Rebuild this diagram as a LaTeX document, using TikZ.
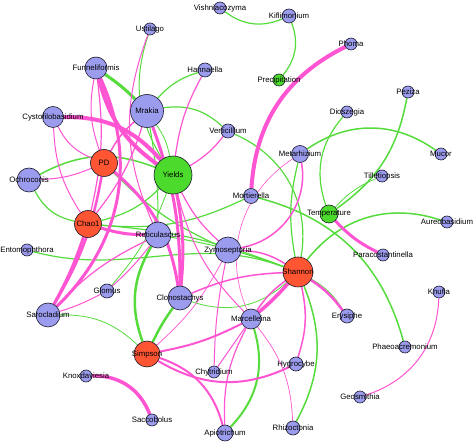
\documentclass[tikz,border=0pt]{standalone}
\usepackage{fontspec}
\setmainfont{Liberation Sans}
\usetikzlibrary{backgrounds}
\definecolor{ink}{HTML}{1A1A2E}
\definecolor{lav}{HTML}{9C9CEE}
\definecolor{tomato}{HTML}{FF5533}
\definecolor{lime}{HTML}{4CDB2C}
\definecolor{posc}{HTML}{55DC3C}
\definecolor{negc}{HTML}{FF55D2}
\tikzset{
  taxon/.style={circle,draw=ink,line width=0.6pt,fill=lav,inner sep=0pt,minimum size=#1},
  taxon/.default=12pt,
  metric/.style={taxon=#1,fill=tomato},
  factor/.style={taxon=#1,fill=lime},
  lbl/.style={font=\fontsize{7.8}{9}\selectfont,text=black,inner sep=0pt},
  posedge/.style={draw=posc,line width=#1},
  posedge/.default=1.2pt,
  negedge/.style={draw=negc,line width=#1},
  negedge/.default=1.2pt
}

\begin{document}
\begin{tikzpicture}[x=1pt,y=-1pt]
  \useasboundingbox (0,0) rectangle (474,443);
  % top
  \node[taxon,label={[lbl]center:Vishniacozyma}] (vish) at (220,8) {};
  \node[taxon=14pt,label={[lbl]center:Kiflimonium}] (kifli) at (289,16) {};
  \node[taxon,label={[lbl]center:Ustilago}] (ustil) at (150,29) {};
  \node[taxon,label={[lbl]center:Phoma}] (phoma) at (351,44) {};
  \node[taxon=22pt,label={[lbl]center:Funneliformis}] (funnel) at (96,68) {};
  \node[taxon=14pt,label={[lbl]center:Hannaella}] (hanna) at (205,70) {};
  \node[factor=12pt,label={[lbl]center:Precipitation}] (precip) at (279,80) {};
  \node[taxon=33pt,label={[lbl]center:Mrakia}] (mrakia) at (147,111) {};
  \node[taxon,label={[lbl]center:Peziza}] (peziza) at (408,92) {};
  \node[taxon=21pt,label={[lbl]center:Cystofilobasidium}] (cysto) at (53,117) {};
  \node[taxon=14pt,label={[lbl]center:Verticillium}] (verti) at (228,131) {};
  \node[taxon,label={[lbl]center:Dioszegia}] (diosz) at (347,112) {};
  % middle
  \node[metric=27pt,label={[lbl]center:PD}] (pd) at (104,163) {};
  \node[factor=38pt,label={[lbl]center:Yields}] (yields) at (173,175) {};
  \node[taxon=24pt,label={[lbl]center:Ochroconis}] (ochro) at (29,180) {};
  \node[taxon=17pt,label={[lbl]center:Metarhizium}] (metarh) at (300,154) {};
  \node[taxon,label={[lbl]center:Mucor}] (mucor) at (441,154) {};
  \node[taxon,label={[lbl]center:Tilletiopsis}] (tillet) at (382,176) {};
  \node[taxon=15pt,label={[lbl]center:Mortierella}] (mortier) at (251,196) {};
  \node[metric=27pt,label={[lbl]center:Chao1}] (chao) at (88,224) {};
  \node[taxon=26pt,label={[lbl]center:Reticulascus}] (retic) at (158,235) {};
  \node[factor=18pt,label={[lbl]center:Temperature}] (temp) at (329,214) {};
  \node[taxon,label={[lbl]center:Aureobasidium}] (aureo) at (447,222) {};
  \node[taxon,label={[lbl]center:Entomophthora}] (entomo) at (27,250) {};
  \node[taxon=26pt,label={[lbl]center:Zymoseptoria}] (zymo) at (228,250) {};
  \node[taxon,label={[lbl]center:Paracostantinella}] (paraco) at (383,255) {};
  \node[metric=30pt,label={[lbl]center:Shannon}] (shannon) at (298,272) {};
  % bottom
  \node[taxon=14pt,label={[lbl]center:Glomus}] (glomus) at (107,291) {};
  \node[taxon=24pt,label={[lbl]center:Clonostachys}] (clono) at (180,298) {};
  \node[taxon=24pt,label={[lbl]center:Sarocladium}] (saro) at (48,315) {};
  \node[taxon,label={[lbl]center:Knufia}] (knufia) at (439,292) {};
  \node[taxon=14pt,label={[lbl]center:Erysiphe}] (erysi) at (347,316) {};
  \node[taxon=20pt,label={[lbl]center:Marcelleina}] (marcel) at (251,319) {};
  \node[taxon,label={[lbl]center:Phaeoacremonium}] (phaeo) at (405,347) {};
  \node[metric=26pt,label={[lbl]center:Simpson}] (simpson) at (147,354) {};
  \node[taxon,label={[lbl]center:Knoxdaviesia}] (knox) at (86,376) {};
  \node[taxon,label={[lbl]center:Chytridium}] (chytrid) at (214,372) {};
  \node[taxon=14pt,label={[lbl]center:Hygrocybe}] (hygro) at (296,364) {};
  \node[taxon,label={[lbl]center:Geosmithia}] (geosm) at (360,397) {};
  \node[taxon,label={[lbl]center:Saccobolus}] (sacco) at (152,420) {};
  \node[taxon=16pt,label={[lbl]center:Apiotrichum}] (apio) at (225,433) {};
  \node[taxon=14pt,label={[lbl]center:Rhizoctonia}] (rhizoc) at (293,428) {};

  \begin{scope}[on background layer]
    \fill[white] (0,0) rectangle (474,443);
    % positive links
    \draw[posedge] (vish) to[bend right=30] (kifli); \draw[posedge] (kifli) to[bend left=30] (precip);
    \draw[posedge=1pt] (ustil) to[bend right=25] (yields); \draw[posedge=3pt] (funnel) to[bend left=5] (mrakia);
    \draw[posedge] (hanna) to[bend right=15] (mrakia); \draw[posedge] (mrakia) to[bend left=25] (verti);
    \draw[posedge=1pt] (mrakia) to[bend left=5] (retic); \draw[posedge=0.8pt] (mrakia) to[bend left=12] (yields);
    \draw[posedge=1.5pt] (ochro) to[bend left=25] (yields); \draw[posedge] (ochro) to[bend right=25] (chao);
    \draw[posedge] (chao) to[bend right=15] (yields); \draw[posedge] (pd) to[bend right=10] (zymo);
    \draw[posedge] (chao) to[bend right=15] (mortier); \draw[posedge] (entomo) to[out=-15,in=160] (shannon);
    \draw[posedge] (chao) to[bend left=8] (shannon); \draw[posedge=1pt] (retic) to[bend left=5] (shannon);
    \draw[posedge=2.5pt] (simpson) to[bend left=25] (retic); \draw[posedge=2.5pt] (clono) to[bend right=5] (simpson);
    \draw[posedge=0.8pt] (saro) to[bend left=22] (simpson); \draw[posedge=0.8pt] (clono) to[bend right=30] (shannon);
    \draw[posedge=0.8pt] (glomus) to[bend right=10] (yields); \draw[posedge=2pt] (marcel) to[bend left=30] (apio);
    \draw[posedge=1.5pt] (shannon) to[bend left=25] (rhizoc); \draw[posedge=1.5pt] (shannon) to[bend left=35] (aureo);
    \draw[posedge=0.8pt] (shannon) to[bend left=14] (erysi); \draw[posedge=1.5pt] (mortier) to[bend left=30] (phaeo);
    \draw[posedge=1.5pt] (metarh) to[bend left=35] (mucor); \draw[posedge] (metarh) to[bend right=12] (shannon);
    \draw[posedge] (verti) to[bend left=38] (shannon); \draw[posedge] (diosz) to[bend right=30] (temp);
    \draw[posedge=1.5pt] (peziza) to[bend left=22] (temp); \draw[posedge=0.8pt] (tillet) to[bend right=12] (temp);
    % negative links
    \draw[negedge=4pt] (phoma) to[bend right=30] (mortier); \draw[negedge=3pt] (temp) to[bend right=10] (paraco);
    \draw[negedge=1pt] (knufia) to[bend left=35] (geosm); \draw[negedge=3.5pt] (knox) to[bend left=35] (sacco);
    \draw[negedge=4pt] (funnel) to[bend right=20] (yields); \draw[negedge=1pt] (funnel) to[bend right=15] (pd);
    \draw[negedge] (funnel) to[bend left=10] (chao); \draw[negedge=3pt] (funnel) to[bend left=35] (saro);
    \draw[negedge=4pt] (cysto) to[bend left=25] (yields); \draw[negedge=1pt] (cysto) to[bend right=15] (chao);
    \draw[negedge=1pt] (cysto) to[bend right=20] (pd); \draw[negedge=1pt] (ochro) to[bend right=10] (pd);
    \draw[negedge=1.5pt] (mrakia) to[bend right=10] (pd); \draw[negedge] (mrakia) to[bend left=10] (chao);
    \draw[negedge=3pt] (mrakia) to[bend left=10] (clono); \draw[negedge=1pt] (ustil) to[bend right=22] (retic);
    \draw[negedge] (hanna) to[bend right=10] (yields); \draw[negedge] (verti) to[bend left=10] (yields);
    \draw[negedge=3pt] (pd) to[bend left=20] (clono); \draw[negedge=2.5pt] (pd) to[bend left=10] (saro);
    \draw[negedge=3pt] (chao) to[bend left=5] (saro); \draw[negedge=3pt] (chao) to[bend right=8] (retic);
    \draw[negedge=3pt] (yields) to[bend left=8] (clono); \draw[negedge=1pt] (yields) to[bend right=15] (marcel);
    \draw[negedge] (yields) to[bend right=10] (zymo); \draw[negedge=1pt] (zymo) to[bend right=5] (chytrid);
    \draw[negedge=1pt] (glomus) to[bend right=5] (retic); \draw[negedge=1pt] (saro) to[bend right=5] (glomus);
    \draw[negedge] (saro) to[bend left=10] (retic); \draw[negedge=1.5pt] (zymo) to[bend left=15] (shannon);
    \draw[negedge=1.5pt] (metarh) to[out=-80,in=10] (zymo); \draw[negedge=0.6pt] (metarh) to[bend right=40] (marcel);
    \draw[negedge=3.5pt] (shannon) to[bend left=4] (marcel); \draw[negedge=1.5pt] (shannon) to[bend right=10] (marcel);
    \draw[negedge=1.5pt] (clono) to[bend left=10] (shannon); \draw[negedge=1.5pt] (shannon) to[bend left=15] (hygro);
    \draw[negedge=2.5pt] (shannon) to[bend left=10] (erysi); \draw[negedge=2pt] (simpson) to[bend right=8] (marcel);
    \draw[negedge=0.7pt] (marcel) to[bend left=18] (rhizoc); \draw[negedge] (marcel) to[bend right=15] (apio);
    \draw[negedge=1pt] (marcel) to (chytrid); \draw[negedge=2pt] (simpson) to[bend right=28] (hygro);
    \draw[negedge=2pt] (simpson) to[bend left=28] (apio); \draw[negedge=0.7pt] (simpson) to[bend right=10] (zymo);
  \end{scope}
\end{tikzpicture}
\end{document}
